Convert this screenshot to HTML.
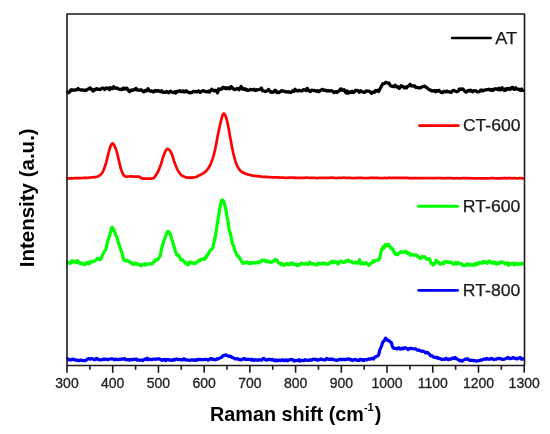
<!DOCTYPE html>
<html><head><meta charset="utf-8"><style>
html,body{margin:0;padding:0;background:#fff;width:550px;height:434px;overflow:hidden}
svg{display:block;filter:blur(0.35px)}
text{font-family:"Liberation Sans",Arial,sans-serif}
</style></head><body>
<svg width="550" height="434" viewBox="0 0 550 434">
<rect width="550" height="434" fill="#fff"/>
<g fill="none" stroke-linejoin="round" stroke-linecap="round">
<path d="M67.6 92.01L68.1 92.22L68.6 92.74L69.1 92.43L69.6 92.29L70.1 91.40L70.6 90.08L71.1 89.84L71.6 89.70L72.1 89.82L72.6 90.25L73.1 89.98L73.6 90.18L74.1 90.01L74.6 90.14L75.1 89.85L75.6 90.11L76.1 89.61L76.6 89.68L77.1 89.30L77.6 88.87L78.1 88.52L78.6 89.32L79.1 89.59L79.6 89.63L80.1 89.75L80.6 90.05L81.1 90.21L81.6 89.81L82.1 89.82L82.6 90.01L83.1 90.12L83.6 90.18L84.1 90.28L84.6 90.48L85.1 90.02L85.6 90.23L86.1 90.49L86.6 89.97L87.1 89.76L87.6 89.29L88.1 88.92L88.6 89.04L89.1 88.46L89.6 88.10L90.1 87.77L90.6 88.19L91.1 88.97L91.6 89.79L92.1 89.98L92.6 90.37L93.1 91.15L93.6 89.94L94.1 89.43L94.6 89.78L95.1 89.98L95.6 89.38L96.1 88.92L96.6 88.58L97.1 88.97L97.6 88.88L98.1 89.45L98.6 89.40L99.1 89.26L99.6 89.20L100.1 89.54L100.6 89.02L101.1 88.82L101.6 88.44L102.1 88.29L102.6 87.90L103.1 88.36L103.6 88.40L104.1 88.97L104.6 89.50L105.1 89.03L105.6 88.37L106.1 87.90L106.6 87.97L107.1 88.32L107.6 88.52L108.1 88.29L108.6 88.04L109.1 89.14L109.6 89.74L110.1 88.49L110.6 87.81L111.1 88.49L111.6 88.75L112.1 88.64L112.6 88.73L113.1 87.54L113.6 86.68L114.1 87.46L114.6 87.67L115.1 87.75L115.6 88.30L116.1 87.96L116.6 87.95L117.1 88.14L117.6 88.20L118.1 88.60L118.6 89.14L119.1 89.18L119.6 89.42L120.1 89.36L120.6 89.57L121.1 89.72L121.6 89.05L122.1 89.39L122.6 89.50L123.1 88.83L123.6 87.97L124.1 88.48L124.6 89.11L125.1 89.06L125.6 88.46L126.1 88.31L126.6 88.12L127.1 88.27L127.6 89.48L128.1 90.10L128.6 90.78L129.1 91.26L129.6 91.66L130.1 91.12L130.6 90.11L131.1 90.18L131.6 90.51L132.1 90.56L132.6 90.04L133.1 89.58L133.6 89.96L134.1 89.70L134.6 89.77L135.1 89.49L135.6 88.53L136.1 88.37L136.6 89.40L137.1 90.11L137.6 89.84L138.1 89.74L138.6 90.26L139.1 90.33L139.6 90.14L140.1 89.84L140.6 89.88L141.1 89.98L141.6 89.92L142.1 90.62L142.6 90.76L143.1 91.30L143.6 91.80L144.1 91.82L144.6 91.19L145.1 90.41L145.6 90.45L146.1 91.05L146.6 90.84L147.1 89.99L147.6 89.72L148.1 88.76L148.6 89.37L149.1 90.47L149.6 90.89L150.1 91.29L150.6 91.11L151.1 90.95L151.6 90.96L152.1 91.42L152.6 91.71L153.1 91.86L153.6 92.02L154.1 91.48L154.6 90.78L155.1 91.08L155.6 90.51L156.1 90.73L156.6 91.22L157.1 91.06L157.6 90.61L158.1 90.45L158.6 90.57L159.1 91.29L159.6 91.42L160.1 91.54L160.6 91.76L161.1 91.35L161.6 90.59L162.1 91.29L162.6 91.64L163.1 92.41L163.6 92.52L164.1 92.36L164.6 92.18L165.1 92.47L165.6 92.19L166.1 92.09L166.6 91.32L167.1 91.58L167.6 91.94L168.1 92.31L168.6 92.77L169.1 92.29L169.6 91.75L170.1 91.20L170.6 91.06L171.1 91.35L171.6 92.09L172.1 92.17L172.6 92.23L173.1 92.47L173.6 92.62L174.1 92.12L174.6 91.77L175.1 92.42L175.6 93.15L176.1 92.62L176.6 91.34L177.1 91.25L177.6 91.73L178.1 91.61L178.6 91.20L179.1 91.02L179.6 90.66L180.1 90.74L180.6 91.49L181.1 91.76L181.6 91.70L182.1 91.09L182.6 90.84L183.1 91.04L183.6 91.54L184.1 92.04L184.6 91.97L185.1 91.71L185.6 90.99L186.1 90.71L186.6 91.10L187.1 91.32L187.6 92.01L188.1 92.19L188.6 92.24L189.1 92.70L189.6 92.44L190.1 92.53L190.6 92.78L191.1 92.53L191.6 92.68L192.1 92.14L192.6 91.87L193.1 91.37L193.6 91.67L194.1 91.93L194.6 91.63L195.1 91.35L195.6 91.44L196.1 91.77L196.6 91.68L197.1 92.02L197.6 91.48L198.1 90.96L198.6 90.84L199.1 91.31L199.6 91.47L200.1 92.37L200.6 92.22L201.1 91.73L201.6 91.30L202.1 90.96L202.6 90.95L203.1 90.66L203.6 91.04L204.1 90.77L204.6 91.19L205.1 91.44L205.6 91.63L206.1 91.61L206.6 91.78L207.1 91.96L207.6 91.81L208.1 91.29L208.6 90.85L209.1 91.64L209.6 92.15L210.1 91.24L210.6 90.62L211.1 90.10L211.6 89.13L212.1 89.89L212.6 90.14L213.1 90.16L213.6 90.25L214.1 90.93L214.6 90.87L215.1 90.52L215.6 90.24L216.1 90.38L216.6 91.04L217.1 91.91L217.6 92.91L218.1 91.02L218.6 88.92L219.1 89.63L219.6 89.71L220.1 89.69L220.6 88.95L221.1 89.23L221.6 89.09L222.1 88.51L222.6 87.54L223.1 87.18L223.6 87.38L224.1 87.85L224.6 88.33L225.1 87.97L225.6 87.66L226.1 88.17L226.6 88.88L227.1 88.57L227.6 87.82L228.1 87.69L228.6 87.82L229.1 88.27L229.6 88.80L230.1 88.57L230.6 87.06L231.1 86.52L231.6 87.17L232.1 87.48L232.6 88.01L233.1 88.78L233.6 88.99L234.1 89.20L234.6 89.60L235.1 89.69L235.6 89.18L236.1 89.07L236.6 89.00L237.1 88.39L237.6 88.56L238.1 88.77L238.6 89.48L239.1 89.80L239.6 88.96L240.1 88.25L240.6 87.31L241.1 86.33L241.6 87.46L242.1 88.87L242.6 88.79L243.1 88.49L243.6 89.26L244.1 89.49L244.6 89.31L245.1 88.66L245.6 89.48L246.1 90.10L246.6 90.03L247.1 89.70L247.6 90.41L248.1 90.22L248.6 90.24L249.1 90.23L249.6 89.79L250.1 89.67L250.6 89.33L251.1 89.57L251.6 89.62L252.1 89.98L252.6 89.98L253.1 89.57L253.6 89.31L254.1 89.22L254.6 89.77L255.1 90.39L255.6 90.55L256.1 89.90L256.6 89.66L257.1 89.96L257.6 89.94L258.1 89.74L258.6 89.68L259.1 89.57L259.6 89.34L260.1 89.24L260.6 89.02L261.1 88.14L261.6 88.10L262.1 90.03L262.6 90.87L263.1 91.01L263.6 90.91L264.1 90.98L264.6 91.02L265.1 91.41L265.6 91.61L266.1 91.43L266.6 91.13L267.1 90.76L267.6 90.52L268.1 90.48L268.6 89.38L269.1 90.15L269.6 90.80L270.1 91.27L270.6 91.97L271.1 91.61L271.6 92.25L272.1 92.43L272.6 92.29L273.1 92.16L273.6 91.86L274.1 91.72L274.6 90.53L275.1 90.22L275.6 90.33L276.1 91.34L276.6 92.27L277.1 92.55L277.6 92.06L278.1 92.05L278.6 92.69L279.1 92.55L279.6 92.09L280.1 91.58L280.6 91.47L281.1 91.09L281.6 90.51L282.1 90.52L282.6 91.07L283.1 91.08L283.6 91.10L284.1 91.08L284.6 91.45L285.1 91.70L285.6 91.79L286.1 91.93L286.6 91.71L287.1 91.68L287.6 91.74L288.1 92.04L288.6 91.90L289.1 91.61L289.6 92.31L290.1 92.44L290.6 92.57L291.1 92.32L291.6 92.00L292.1 91.47L292.6 90.94L293.1 90.41L293.6 90.54L294.1 91.42L294.6 89.78L295.1 89.16L295.6 89.97L296.1 90.62L296.6 90.80L297.1 90.93L297.6 91.00L298.1 90.73L298.6 90.95L299.1 90.23L299.6 90.59L300.1 90.75L300.6 90.77L301.1 90.89L301.6 91.09L302.1 90.82L302.6 90.33L303.1 89.82L303.6 89.63L304.1 90.01L304.6 89.95L305.1 89.88L305.6 90.09L306.1 90.65L306.6 90.03L307.1 88.35L307.6 88.59L308.1 89.86L308.6 90.55L309.1 90.49L309.6 91.06L310.1 91.56L310.6 91.49L311.1 90.60L311.6 90.08L312.1 90.16L312.6 90.25L313.1 90.25L313.6 90.56L314.1 90.57L314.6 90.39L315.1 90.48L315.6 90.84L316.1 91.04L316.6 91.28L317.1 90.79L317.6 90.72L318.1 91.42L318.6 91.85L319.1 91.56L319.6 91.22L320.1 90.74L320.6 90.21L321.1 90.13L321.6 89.88L322.1 89.28L322.6 89.44L323.1 89.75L323.6 90.29L324.1 90.28L324.6 89.99L325.1 90.09L325.6 90.13L326.1 90.61L326.6 91.04L327.1 90.51L327.6 90.65L328.1 90.63L328.6 90.78L329.1 90.80L329.6 91.05L330.1 90.87L330.6 90.82L331.1 90.81L331.6 90.57L332.1 91.07L332.6 91.26L333.1 91.51L333.6 92.29L334.1 92.56L334.6 92.31L335.1 92.06L335.6 91.56L336.1 91.55L336.6 92.04L337.1 92.45L337.6 91.68L338.1 91.39L338.6 91.24L339.1 91.22L339.6 90.39L340.1 89.43L340.6 88.89L341.1 88.90L341.6 89.78L342.1 89.98L342.6 90.38L343.1 90.09L343.6 89.87L344.1 89.65L344.6 90.53L345.1 91.72L345.6 92.48L346.1 92.88L346.6 92.02L347.1 90.86L347.6 91.73L348.1 93.28L348.6 92.68L349.1 92.26L349.6 91.98L350.1 92.49L350.6 92.12L351.1 92.46L351.6 91.79L352.1 91.19L352.6 91.68L353.1 92.51L353.6 92.56L354.1 92.18L354.6 91.34L355.1 90.62L355.6 90.20L356.1 90.56L356.6 90.72L357.1 90.38L357.6 90.50L358.1 90.99L358.6 91.53L359.1 92.19L359.6 92.11L360.1 90.83L360.6 90.80L361.1 90.89L361.6 91.42L362.1 91.52L362.6 91.78L363.1 91.99L363.6 92.21L364.1 92.45L364.6 92.23L365.1 92.12L365.6 91.12L366.1 90.92L366.6 90.86L367.1 91.14L367.6 91.20L368.1 91.18L368.6 91.06L369.1 90.96L369.6 91.38L370.1 91.83L370.6 92.64L371.1 93.06L371.6 93.36L372.1 92.85L372.6 92.15L373.1 92.17L373.6 91.77L374.1 92.06L374.6 92.31L375.1 91.41L375.6 90.36L376.1 90.88L376.6 91.11L377.1 90.85L377.6 90.29L378.1 90.94L378.6 91.47L379.1 90.62L379.6 89.71L380.1 88.75L380.6 87.83L381.1 86.74L381.6 85.95L382.1 85.01L382.6 84.06L383.1 83.65L383.6 83.62L384.1 83.65L384.6 83.43L385.1 82.98L385.6 82.53L386.1 82.34L386.6 82.50L387.1 82.80L387.6 83.04L388.1 83.18L388.6 83.01L389.1 83.02L389.6 84.21L390.1 85.22L390.6 85.85L391.1 86.10L391.6 86.15L392.1 86.26L392.6 86.32L393.1 86.27L393.6 86.71L394.1 86.76L394.6 86.18L395.1 85.15L395.6 85.61L396.1 86.21L396.6 86.80L397.1 87.20L397.6 86.94L398.1 86.61L398.6 87.52L399.1 88.41L399.6 88.02L400.1 87.40L400.6 86.68L401.1 85.67L401.6 86.07L402.1 86.61L402.6 86.62L403.1 86.40L403.6 87.04L404.1 87.59L404.6 88.04L405.1 87.34L405.6 87.37L406.1 87.84L406.6 87.84L407.1 86.51L407.6 86.30L408.1 86.30L408.6 86.06L409.1 85.20L409.6 84.76L410.1 84.28L410.6 84.88L411.1 85.92L411.6 86.05L412.1 85.98L412.6 85.87L413.1 85.72L413.6 86.07L414.1 85.93L414.6 85.76L415.1 86.43L415.6 87.34L416.1 87.24L416.6 87.47L417.1 87.47L417.6 87.28L418.1 87.78L418.6 87.77L419.1 87.97L419.6 87.63L420.1 87.97L420.6 87.88L421.1 87.32L421.6 87.00L422.1 86.90L422.6 86.73L423.1 86.62L423.6 86.43L424.1 86.01L424.6 86.02L425.1 86.46L425.6 87.19L426.1 87.29L426.6 87.42L427.1 88.04L427.6 88.22L428.1 88.74L428.6 89.44L429.1 89.67L429.6 89.74L430.1 89.87L430.6 90.02L431.1 90.84L431.6 90.82L432.1 90.89L432.6 90.55L433.1 90.82L433.6 90.93L434.1 91.21L434.6 90.50L435.1 90.70L435.6 91.80L436.1 91.68L436.6 90.56L437.1 90.70L437.6 91.06L438.1 91.02L438.6 90.33L439.1 90.39L439.6 91.22L440.1 91.54L440.6 92.02L441.1 92.26L441.6 92.59L442.1 92.28L442.6 92.65L443.1 92.33L443.6 91.36L444.1 91.36L444.6 91.27L445.1 91.74L445.6 91.86L446.1 91.48L446.6 91.05L447.1 91.08L447.6 91.50L448.1 91.99L448.6 91.83L449.1 91.72L449.6 91.94L450.1 91.79L450.6 92.20L451.1 92.55L451.6 91.90L452.1 91.24L452.6 90.93L453.1 90.33L453.6 90.57L454.1 90.31L454.6 90.68L455.1 91.11L455.6 91.24L456.1 91.35L456.6 91.63L457.1 91.60L457.6 91.45L458.1 91.30L458.6 90.74L459.1 89.39L459.6 88.80L460.1 88.95L460.6 89.01L461.1 89.46L461.6 89.19L462.1 88.94L462.6 88.79L463.1 89.15L463.6 89.67L464.1 90.41L464.6 91.17L465.1 91.46L465.6 91.98L466.1 92.24L466.6 91.76L467.1 91.47L467.6 90.79L468.1 90.63L468.6 90.28L469.1 90.38L469.6 91.08L470.1 90.63L470.6 90.07L471.1 90.36L471.6 90.96L472.1 91.35L472.6 91.88L473.1 91.41L473.6 90.93L474.1 90.53L474.6 90.68L475.1 90.82L475.6 90.81L476.1 90.92L476.6 91.60L477.1 91.66L477.6 91.97L478.1 91.82L478.6 91.66L479.1 91.79L479.6 91.44L480.1 91.04L480.6 90.13L481.1 90.29L481.6 90.29L482.1 90.09L482.6 91.12L483.1 90.71L483.6 90.59L484.1 90.17L484.6 90.14L485.1 90.00L485.6 89.81L486.1 89.55L486.6 89.83L487.1 89.69L487.6 89.72L488.1 89.76L488.6 89.18L489.1 89.42L489.6 89.52L490.1 89.91L490.6 90.33L491.1 90.28L491.6 89.58L492.1 89.40L492.6 89.90L493.1 90.36L493.6 89.86L494.1 89.26L494.6 89.03L495.1 88.70L495.6 89.05L496.1 89.22L496.6 88.75L497.1 88.85L497.6 89.08L498.1 89.78L498.6 88.68L499.1 88.26L499.6 88.73L500.1 89.84L500.6 89.83L501.1 89.53L501.6 88.40L502.1 87.58L502.6 88.33L503.1 89.59L503.6 89.99L504.1 90.26L504.6 89.76L505.1 89.01L505.6 89.28L506.1 90.10L506.6 89.39L507.1 88.48L507.6 88.31L508.1 89.14L508.6 89.15L509.1 88.44L509.6 88.70L510.1 89.49L510.6 89.13L511.1 88.25L511.6 87.61L512.1 87.33L512.6 87.34L513.1 88.34L513.6 89.01L514.1 89.47L514.6 89.37L515.1 88.05L515.6 87.69L516.1 88.69L516.6 88.96L517.1 89.09L517.6 89.01L518.1 89.04L518.6 89.11L519.1 89.44L519.6 89.95L520.1 90.28L520.6 90.55L521.1 89.85L521.6 88.87L522.1 89.83L522.6 90.44L523.1 90.59" stroke="#000" stroke-width="3.2"/>
<path d="M67.6 178.23L68.1 178.27L68.6 178.35L69.1 178.42L69.6 178.38L70.1 178.38L70.6 178.38L71.1 178.20L71.6 178.22L72.1 178.31L72.6 178.36L73.1 178.23L73.6 178.23L74.1 178.13L74.6 178.17L75.1 178.09L75.6 178.15L76.1 178.14L76.6 178.14L77.1 178.20L77.6 178.21L78.1 178.15L78.6 178.21L79.1 178.02L79.6 178.08L80.1 178.13L80.6 178.02L81.1 178.02L81.6 178.01L82.1 178.05L82.6 177.99L83.1 178.02L83.6 177.90L84.1 177.83L84.6 177.82L85.1 177.79L85.6 177.68L86.1 177.87L86.6 177.81L87.1 177.76L87.6 177.90L88.1 177.80L88.6 177.75L89.1 177.72L89.6 177.59L90.1 177.43L90.6 177.52L91.1 177.49L91.6 177.48L92.1 177.33L92.6 177.27L93.1 177.23L93.6 177.17L94.1 177.22L94.6 177.29L95.1 177.17L95.6 177.13L96.1 176.82L96.6 176.73L97.1 176.63L97.6 176.49L98.1 176.35L98.6 176.09L99.1 175.79L99.6 175.41L100.1 175.03L100.6 174.70L101.1 174.10L101.6 173.63L102.1 173.00L102.6 172.24L103.1 171.22L103.6 170.05L104.1 168.92L104.6 167.40L105.1 165.84L105.6 164.27L106.1 162.68L106.6 160.91L107.1 158.83L107.6 156.80L108.1 154.67L108.6 152.68L109.1 150.89L109.6 149.09L110.1 147.48L110.6 146.04L111.1 144.98L111.6 144.18L112.1 143.50L112.6 143.42L113.1 143.74L113.6 144.40L114.1 145.09L114.6 146.05L115.1 147.13L115.6 148.43L116.1 149.91L116.6 151.17L117.1 153.03L117.6 154.99L118.1 157.30L118.6 159.48L119.1 161.57L119.6 163.76L120.1 165.90L120.6 168.02L121.1 169.56L121.6 170.87L122.1 172.10L122.6 173.34L123.1 174.27L123.6 175.06L124.1 175.64L124.6 176.06L125.1 176.32L125.6 176.58L126.1 176.49L126.6 176.48L127.1 176.56L127.6 176.55L128.1 176.54L128.6 176.50L129.1 176.50L129.6 176.44L130.1 176.35L130.6 176.43L131.1 176.33L131.6 176.38L132.1 176.45L132.6 176.46L133.1 176.66L133.6 176.54L134.1 176.60L134.6 176.60L135.1 176.62L135.6 176.53L136.1 176.50L136.6 176.66L137.1 176.57L137.6 176.59L138.1 176.61L138.6 176.53L139.1 176.67L139.6 176.95L140.1 177.21L140.6 177.56L141.1 177.82L141.6 178.16L142.1 178.36L142.6 178.51L143.1 178.73L143.6 178.67L144.1 178.71L144.6 178.62L145.1 178.66L145.6 178.64L146.1 178.58L146.6 178.68L147.1 178.62L147.6 178.65L148.1 178.59L148.6 178.72L149.1 178.70L149.6 178.67L150.1 178.59L150.6 178.59L151.1 178.63L151.6 178.50L152.1 178.50L152.6 178.50L153.1 178.37L153.6 178.23L154.1 177.59L154.6 177.10L155.1 176.40L155.6 175.59L156.1 174.91L156.6 174.10L157.1 173.25L157.6 172.36L158.1 171.48L158.6 170.47L159.1 169.29L159.6 168.10L160.1 166.69L160.6 165.27L161.1 163.82L161.6 162.07L162.1 160.33L162.6 158.65L163.1 157.04L163.6 155.66L164.1 154.33L164.6 153.02L165.1 151.88L165.6 150.87L166.1 150.11L166.6 149.45L167.1 149.05L167.6 148.86L168.1 149.07L168.6 149.48L169.1 149.90L169.6 150.39L170.1 150.88L170.6 151.76L171.1 152.61L171.6 153.63L172.1 154.83L172.6 156.16L173.1 157.98L173.6 159.55L174.1 161.19L174.6 162.53L175.1 163.92L175.6 165.19L176.1 166.43L176.6 167.71L177.1 168.90L177.6 169.85L178.1 170.71L178.6 171.65L179.1 172.37L179.6 173.07L180.1 173.87L180.6 174.37L181.1 174.89L181.6 175.36L182.1 175.70L182.6 175.99L183.1 176.18L183.6 176.35L184.1 176.60L184.6 176.84L185.1 177.03L185.6 177.21L186.1 177.37L186.6 177.47L187.1 177.60L187.6 177.64L188.1 177.70L188.6 177.78L189.1 177.65L189.6 177.74L190.1 177.80L190.6 177.47L191.1 177.60L191.6 177.45L192.1 177.58L192.6 177.62L193.1 177.56L193.6 177.37L194.1 177.32L194.6 177.29L195.1 177.32L195.6 177.13L196.1 176.94L196.6 176.70L197.1 176.46L197.6 176.23L198.1 175.95L198.6 175.61L199.1 175.53L199.6 175.09L200.1 175.04L200.6 174.67L201.1 174.41L201.6 174.14L202.1 173.93L202.6 173.71L203.1 173.41L203.6 173.01L204.1 172.72L204.6 172.26L205.1 171.98L205.6 171.48L206.1 170.97L206.6 170.48L207.1 169.90L207.6 169.16L208.1 168.49L208.6 167.82L209.1 166.90L209.6 166.06L210.1 165.16L210.6 164.03L211.1 162.79L211.6 161.55L212.1 160.27L212.6 158.83L213.1 157.27L213.6 155.55L214.1 153.60L214.6 151.72L215.1 149.52L215.6 147.03L216.1 144.54L216.6 141.80L217.1 139.12L217.6 136.51L218.1 133.95L218.6 131.67L219.1 129.13L219.6 126.80L220.1 124.54L220.6 122.47L221.1 120.44L221.6 118.33L222.1 116.55L222.6 115.19L223.1 114.26L223.6 113.49L224.1 113.57L224.6 114.17L225.1 115.06L225.6 116.09L226.1 117.53L226.6 119.22L227.1 121.15L227.6 123.27L228.1 125.69L228.6 128.47L229.1 131.22L229.6 134.14L230.1 136.79L230.6 139.41L231.1 142.17L231.6 144.90L232.1 147.55L232.6 150.11L233.1 152.41L233.6 154.42L234.1 156.48L234.6 158.38L235.1 160.15L235.6 161.89L236.1 163.19L236.6 164.45L237.1 165.55L237.6 166.60L238.1 167.46L238.6 168.31L239.1 169.01L239.6 169.83L240.1 170.57L240.6 170.98L241.1 171.37L241.6 171.80L242.1 172.05L242.6 172.36L243.1 172.44L243.6 172.82L244.1 173.00L244.6 173.24L245.1 173.54L245.6 173.76L246.1 173.80L246.6 174.00L247.1 174.21L247.6 174.41L248.1 174.48L248.6 174.74L249.1 174.73L249.6 174.78L250.1 174.93L250.6 175.22L251.1 175.33L251.6 175.29L252.1 175.42L252.6 175.58L253.1 175.59L253.6 175.76L254.1 175.93L254.6 175.82L255.1 175.83L255.6 175.82L256.1 175.97L256.6 176.15L257.1 176.13L257.6 176.08L258.1 176.10L258.6 176.25L259.1 176.29L259.6 176.37L260.1 176.50L260.6 176.57L261.1 176.61L261.6 176.58L262.1 176.76L262.6 176.81L263.1 176.92L263.6 176.83L264.1 176.95L264.6 176.86L265.1 176.79L265.6 176.92L266.1 176.83L266.6 176.90L267.1 176.90L267.6 177.01L268.1 177.10L268.6 177.21L269.1 177.26L269.6 177.15L270.1 177.15L270.6 177.25L271.1 177.20L271.6 177.28L272.1 177.30L272.6 177.29L273.1 177.35L273.6 177.35L274.1 177.32L274.6 177.31L275.1 177.33L275.6 177.36L276.1 177.24L276.6 177.25L277.1 177.35L277.6 177.33L278.1 177.34L278.6 177.30L279.1 177.45L279.6 177.57L280.1 177.58L280.6 177.75L281.1 177.65L281.6 177.61L282.1 177.48L282.6 177.48L283.1 177.55L283.6 177.60L284.1 177.67L284.6 177.73L285.1 177.76L285.6 177.84L286.1 177.77L286.6 177.87L287.1 177.84L287.6 177.79L288.1 177.57L288.6 177.56L289.1 177.57L289.6 177.69L290.1 177.73L290.6 177.69L291.1 177.72L291.6 177.72L292.1 177.70L292.6 177.56L293.1 177.66L293.6 177.65L294.1 177.81L294.6 177.82L295.1 177.72L295.6 177.72L296.1 177.89L296.6 177.83L297.1 177.85L297.6 177.81L298.1 177.80L298.6 177.82L299.1 177.82L299.6 177.78L300.1 177.91L300.6 177.86L301.1 177.76L301.6 177.83L302.1 177.76L302.6 177.83L303.1 177.79L303.6 177.84L304.1 177.73L304.6 177.82L305.1 177.71L305.6 177.78L306.1 177.63L306.6 177.74L307.1 177.75L307.6 177.71L308.1 177.77L308.6 177.73L309.1 177.95L309.6 177.99L310.1 177.84L310.6 177.85L311.1 177.85L311.6 177.87L312.1 177.88L312.6 177.72L313.1 177.85L313.6 177.78L314.1 177.75L314.6 177.87L315.1 177.84L315.6 177.96L316.1 178.00L316.6 178.03L317.1 178.15L317.6 178.12L318.1 178.02L318.6 177.93L319.1 177.93L319.6 177.94L320.1 177.88L320.6 178.00L321.1 177.94L321.6 177.94L322.1 177.95L322.6 177.88L323.1 177.92L323.6 177.88L324.1 177.79L324.6 177.80L325.1 177.91L325.6 177.83L326.1 177.86L326.6 177.84L327.1 177.93L327.6 178.01L328.1 177.94L328.6 177.88L329.1 177.95L329.6 177.83L330.1 177.78L330.6 177.81L331.1 177.62L331.6 177.72L332.1 177.65L332.6 177.71L333.1 177.76L333.6 177.84L334.1 177.87L334.6 177.92L335.1 177.95L335.6 178.04L336.1 178.06L336.6 177.99L337.1 177.94L337.6 177.84L338.1 177.78L338.6 177.89L339.1 177.88L339.6 177.91L340.1 177.74L340.6 177.96L341.1 177.76L341.6 177.82L342.1 177.86L342.6 177.73L343.1 177.73L343.6 177.63L344.1 177.66L344.6 177.69L345.1 177.82L345.6 177.83L346.1 177.78L346.6 177.84L347.1 177.84L347.6 177.79L348.1 177.80L348.6 177.80L349.1 177.80L349.6 177.94L350.1 177.93L350.6 177.96L351.1 178.03L351.6 178.10L352.1 178.04L352.6 178.07L353.1 178.05L353.6 178.11L354.1 178.03L354.6 177.89L355.1 178.01L355.6 178.11L356.1 178.04L356.6 178.02L357.1 177.91L357.6 177.85L358.1 177.78L358.6 177.81L359.1 177.85L359.6 177.78L360.1 177.83L360.6 177.84L361.1 177.98L361.6 177.91L362.1 177.96L362.6 178.02L363.1 178.03L363.6 178.04L364.1 178.11L364.6 178.04L365.1 178.14L365.6 178.10L366.1 178.13L366.6 178.12L367.1 178.10L367.6 178.07L368.1 178.11L368.6 178.12L369.1 177.91L369.6 177.96L370.1 177.97L370.6 177.87L371.1 177.85L371.6 177.80L372.1 177.68L372.6 177.83L373.1 177.80L373.6 177.81L374.1 177.84L374.6 177.88L375.1 178.01L375.6 177.91L376.1 177.92L376.6 177.84L377.1 177.90L377.6 177.91L378.1 177.97L378.6 177.96L379.1 177.98L379.6 178.05L380.1 178.10L380.6 178.12L381.1 178.09L381.6 178.14L382.1 177.98L382.6 178.13L383.1 178.05L383.6 178.01L384.1 178.01L384.6 177.92L385.1 178.03L385.6 177.98L386.1 178.05L386.6 178.01L387.1 178.06L387.6 178.07L388.1 177.85L388.6 177.74L389.1 177.69L389.6 177.74L390.1 177.90L390.6 177.77L391.1 177.73L391.6 177.83L392.1 177.79L392.6 177.82L393.1 177.83L393.6 177.78L394.1 177.82L394.6 177.78L395.1 177.89L395.6 177.86L396.1 177.96L396.6 177.94L397.1 177.81L397.6 177.79L398.1 177.81L398.6 177.88L399.1 177.80L399.6 177.91L400.1 178.01L400.6 177.92L401.1 177.92L401.6 177.87L402.1 177.77L402.6 177.87L403.1 177.87L403.6 177.90L404.1 177.97L404.6 178.00L405.1 177.90L405.6 178.03L406.1 177.95L406.6 177.96L407.1 177.91L407.6 177.92L408.1 178.06L408.6 178.05L409.1 178.06L409.6 178.10L410.1 178.13L410.6 178.13L411.1 178.02L411.6 178.12L412.1 178.20L412.6 178.26L413.1 178.29L413.6 178.14L414.1 178.25L414.6 178.12L415.1 178.09L415.6 177.99L416.1 177.96L416.6 178.09L417.1 178.05L417.6 178.08L418.1 178.15L418.6 178.18L419.1 178.02L419.6 178.08L420.1 178.09L420.6 178.16L421.1 178.15L421.6 177.99L422.1 178.00L422.6 178.06L423.1 178.10L423.6 178.05L424.1 178.14L424.6 178.08L425.1 177.98L425.6 178.02L426.1 178.08L426.6 178.12L427.1 178.00L427.6 178.06L428.1 178.17L428.6 178.02L429.1 178.23L429.6 178.25L430.1 178.03L430.6 178.18L431.1 178.12L431.6 178.22L432.1 178.19L432.6 178.16L433.1 178.16L433.6 178.17L434.1 178.14L434.6 178.16L435.1 178.11L435.6 178.20L436.1 178.13L436.6 178.18L437.1 178.05L437.6 178.02L438.1 177.96L438.6 178.01L439.1 177.98L439.6 177.99L440.1 178.14L440.6 178.17L441.1 178.08L441.6 178.08L442.1 178.23L442.6 178.17L443.1 178.38L443.6 178.25L444.1 178.28L444.6 178.13L445.1 178.12L445.6 178.11L446.1 178.04L446.6 177.98L447.1 178.12L447.6 178.03L448.1 177.99L448.6 178.01L449.1 178.05L449.6 178.14L450.1 178.05L450.6 178.09L451.1 178.05L451.6 178.15L452.1 178.12L452.6 178.24L453.1 178.30L453.6 178.27L454.1 178.31L454.6 178.29L455.1 178.16L455.6 178.23L456.1 178.35L456.6 178.15L457.1 178.23L457.6 178.17L458.1 178.29L458.6 178.27L459.1 178.36L459.6 178.33L460.1 178.27L460.6 178.37L461.1 178.28L461.6 178.19L462.1 178.17L462.6 178.09L463.1 178.19L463.6 178.19L464.1 178.18L464.6 178.21L465.1 178.10L465.6 178.21L466.1 178.11L466.6 178.35L467.1 178.27L467.6 178.15L468.1 178.03L468.6 178.09L469.1 178.15L469.6 178.24L470.1 178.34L470.6 178.23L471.1 178.21L471.6 178.24L472.1 178.31L472.6 178.29L473.1 178.32L473.6 178.29L474.1 178.31L474.6 178.34L475.1 178.24L475.6 178.29L476.1 178.30L476.6 178.35L477.1 178.42L477.6 178.34L478.1 178.32L478.6 178.33L479.1 178.20L479.6 178.25L480.1 178.30L480.6 178.33L481.1 178.32L481.6 178.25L482.1 178.36L482.6 178.23L483.1 178.25L483.6 178.32L484.1 178.31L484.6 178.28L485.1 178.30L485.6 178.32L486.1 178.27L486.6 178.30L487.1 178.23L487.6 178.29L488.1 178.23L488.6 178.30L489.1 178.32L489.6 178.43L490.1 178.27L490.6 178.24L491.1 178.12L491.6 178.14L492.1 178.12L492.6 178.10L493.1 178.22L493.6 178.14L494.1 178.31L494.6 178.46L495.1 178.33L495.6 178.40L496.1 178.30L496.6 178.37L497.1 178.28L497.6 178.41L498.1 178.37L498.6 178.31L499.1 178.34L499.6 178.32L500.1 178.37L500.6 178.38L501.1 178.27L501.6 178.21L502.1 178.25L502.6 178.32L503.1 178.16L503.6 178.23L504.1 178.14L504.6 177.97L505.1 178.20L505.6 178.10L506.1 178.21L506.6 178.31L507.1 178.22L507.6 178.22L508.1 178.22L508.6 178.18L509.1 178.21L509.6 178.19L510.1 178.20L510.6 178.22L511.1 178.26L511.6 178.21L512.1 178.26L512.6 178.25L513.1 178.20L513.6 178.35L514.1 178.18L514.6 178.27L515.1 178.19L515.6 178.26L516.1 178.32L516.6 178.36L517.1 178.37L517.6 178.23L518.1 178.38L518.6 178.19L519.1 178.07L519.6 178.00L520.1 178.18L520.6 178.15L521.1 178.11L521.6 178.24L522.1 178.36L522.6 178.36L523.1 178.39" stroke="#ff0000" stroke-width="2.7"/>
<path d="M67.6 263.07L68.1 262.67L68.6 262.62L69.1 262.90L69.6 262.68L70.1 263.38L70.6 262.65L71.1 262.50L71.6 260.96L72.1 260.91L72.6 260.91L73.1 261.95L73.6 261.83L74.1 261.37L74.6 261.48L75.1 262.09L75.6 262.26L76.1 262.85L76.6 262.00L77.1 260.57L77.6 261.49L78.1 261.30L78.6 262.23L79.1 263.18L79.6 263.04L80.1 262.84L80.6 263.64L81.1 263.56L81.6 263.15L82.1 263.06L82.6 263.49L83.1 263.36L83.6 264.14L84.1 264.77L84.6 264.71L85.1 263.75L85.6 263.16L86.1 263.83L86.6 263.10L87.1 262.61L87.6 262.26L88.1 262.73L88.6 263.45L89.1 263.59L89.6 263.43L90.1 261.73L90.6 261.58L91.1 261.52L91.6 261.91L92.1 261.57L92.6 261.34L93.1 261.57L93.6 261.31L94.1 261.44L94.6 260.85L95.1 260.57L95.6 260.18L96.1 260.18L96.6 259.36L97.1 258.64L97.6 258.10L98.1 258.97L98.6 258.98L99.1 259.39L99.6 259.43L100.1 259.81L100.6 258.54L101.1 258.56L101.6 257.08L102.1 256.11L102.6 254.84L103.1 254.07L103.6 252.70L104.1 252.35L104.6 251.39L105.1 250.38L105.6 250.10L106.1 248.37L106.6 246.23L107.1 243.84L107.6 241.79L108.1 239.53L108.6 238.39L109.1 237.55L109.6 235.79L110.1 233.52L110.6 232.16L111.1 229.69L111.6 228.09L112.1 227.08L112.6 228.07L113.1 228.97L113.6 229.44L114.1 230.51L114.6 231.70L115.1 232.83L115.6 234.43L116.1 235.90L116.6 236.34L117.1 238.12L117.6 239.77L118.1 241.44L118.6 243.36L119.1 244.38L119.6 246.71L120.1 247.61L120.6 249.05L121.1 250.54L121.6 252.23L122.1 253.69L122.6 255.69L123.1 257.77L123.6 259.54L124.1 260.03L124.6 260.49L125.1 260.99L125.6 260.77L126.1 260.44L126.6 261.09L127.1 260.40L127.6 260.34L128.1 260.91L128.6 261.43L129.1 261.73L129.6 261.62L130.1 262.17L130.6 262.55L131.1 262.55L131.6 263.03L132.1 264.14L132.6 263.21L133.1 263.90L133.6 263.85L134.1 264.31L134.6 263.79L135.1 263.00L135.6 263.63L136.1 263.22L136.6 264.02L137.1 263.90L137.6 263.77L138.1 264.65L138.6 264.82L139.1 264.67L139.6 265.19L140.1 264.73L140.6 265.00L141.1 265.58L141.6 265.70L142.1 265.06L142.6 264.42L143.1 264.49L143.6 264.47L144.1 263.99L144.6 263.92L145.1 265.05L145.6 264.84L146.1 264.91L146.6 263.86L147.1 264.12L147.6 264.02L148.1 264.01L148.6 264.02L149.1 263.89L149.6 263.61L150.1 264.03L150.6 263.53L151.1 263.51L151.6 263.83L152.1 263.84L152.6 263.33L153.1 262.50L153.6 262.42L154.1 261.31L154.6 261.21L155.1 261.27L155.6 259.35L156.1 259.70L156.6 259.72L157.1 259.69L157.6 259.93L158.1 259.39L158.6 258.34L159.1 257.64L159.6 256.98L160.1 255.62L160.6 253.65L161.1 250.88L161.6 248.71L162.1 246.29L162.6 244.96L163.1 243.22L163.6 241.54L164.1 240.24L164.6 239.01L165.1 238.23L165.6 236.15L166.1 235.17L166.6 233.97L167.1 233.09L167.6 231.75L168.1 231.33L168.6 231.96L169.1 231.85L169.6 232.82L170.1 233.66L170.6 234.52L171.1 236.64L171.6 238.63L172.1 240.27L172.6 241.57L173.1 243.31L173.6 245.00L174.1 246.84L174.6 248.38L175.1 250.21L175.6 251.76L176.1 252.72L176.6 254.62L177.1 255.17L177.6 255.44L178.1 255.07L178.6 255.27L179.1 256.11L179.6 257.28L180.1 258.63L180.6 259.26L181.1 259.90L181.6 260.12L182.1 259.33L182.6 260.38L183.1 260.87L183.6 261.09L184.1 261.71L184.6 261.70L185.1 262.70L185.6 263.02L186.1 263.76L186.6 264.16L187.1 262.98L187.6 263.58L188.1 264.84L188.6 264.55L189.1 263.44L189.6 262.25L190.1 261.97L190.6 262.55L191.1 262.97L191.6 262.69L192.1 262.89L192.6 262.85L193.1 263.23L193.6 262.86L194.1 263.68L194.6 263.21L195.1 263.54L195.6 263.31L196.1 262.88L196.6 262.90L197.1 262.18L197.6 261.61L198.1 260.73L198.6 260.85L199.1 261.14L199.6 260.92L200.1 259.86L200.6 259.47L201.1 259.91L201.6 259.43L202.1 259.24L202.6 258.93L203.1 258.98L203.6 258.44L204.1 259.50L204.6 259.39L205.1 258.59L205.6 257.55L206.1 256.46L206.6 257.04L207.1 255.82L207.6 255.07L208.1 254.01L208.6 253.26L209.1 252.18L209.6 251.54L210.1 250.63L210.6 249.91L211.1 249.31L211.6 249.59L212.1 248.91L212.6 247.99L213.1 246.26L213.6 243.73L214.1 241.59L214.6 240.03L215.1 237.70L215.6 234.93L216.1 231.83L216.6 228.53L217.1 224.95L217.6 222.15L218.1 218.99L218.6 215.43L219.1 212.90L219.6 209.81L220.1 206.63L220.6 204.61L221.1 202.51L221.6 200.55L222.1 199.87L222.6 200.51L223.1 200.38L223.6 201.11L224.1 202.63L224.6 204.41L225.1 206.34L225.6 208.40L226.1 210.88L226.6 213.97L227.1 216.86L227.6 219.16L228.1 221.63L228.6 226.02L229.1 229.41L229.6 231.77L230.1 232.48L230.6 234.48L231.1 236.99L231.6 239.61L232.1 242.19L232.6 243.92L233.1 245.43L233.6 246.31L234.1 247.28L234.6 249.66L235.1 250.90L235.6 252.05L236.1 253.23L236.6 254.51L237.1 255.54L237.6 256.01L238.1 255.76L238.6 256.21L239.1 257.19L239.6 257.96L240.1 259.02L240.6 260.19L241.1 260.37L241.6 261.96L242.1 261.96L242.6 262.00L243.1 263.43L243.6 263.32L244.1 262.96L244.6 262.54L245.1 262.69L245.6 262.82L246.1 262.07L246.6 262.25L247.1 262.11L247.6 262.14L248.1 263.06L248.6 263.42L249.1 262.80L249.6 262.66L250.1 263.34L250.6 263.75L251.1 263.04L251.6 262.49L252.1 263.04L252.6 262.73L253.1 262.78L253.6 262.77L254.1 262.86L254.6 262.77L255.1 262.85L255.6 262.65L256.1 262.76L256.6 262.93L257.1 262.16L257.6 262.20L258.1 262.39L258.6 262.87L259.1 262.14L259.6 261.86L260.1 261.98L260.6 261.77L261.1 261.33L261.6 260.23L262.1 260.48L262.6 260.04L263.1 260.17L263.6 260.55L264.1 260.44L264.6 260.12L265.1 260.54L265.6 261.49L266.1 261.06L266.6 260.81L267.1 261.20L267.6 261.81L268.1 261.55L268.6 261.16L269.1 261.56L269.6 261.82L270.1 261.70L270.6 262.45L271.1 262.13L271.6 262.21L272.1 261.73L272.6 261.69L273.1 261.88L273.6 260.74L274.1 260.67L274.6 260.27L275.1 259.35L275.6 260.04L276.1 260.09L276.6 260.28L277.1 260.11L277.6 261.07L278.1 262.64L278.6 262.72L279.1 262.75L279.6 263.15L280.1 263.55L280.6 264.18L281.1 264.66L281.6 263.49L282.1 263.87L282.6 263.99L283.1 264.58L283.6 265.17L284.1 264.98L284.6 265.24L285.1 264.20L285.6 264.15L286.1 263.75L286.6 264.07L287.1 263.62L287.6 264.02L288.1 264.94L288.6 264.42L289.1 264.43L289.6 263.85L290.1 263.25L290.6 263.31L291.1 264.07L291.6 263.98L292.1 263.58L292.6 262.84L293.1 263.67L293.6 264.46L294.1 264.42L294.6 264.80L295.1 264.47L295.6 264.39L296.1 264.43L296.6 264.54L297.1 265.63L297.6 265.80L298.1 264.60L298.6 264.92L299.1 264.55L299.6 264.56L300.1 264.87L300.6 264.07L301.1 263.33L301.6 263.11L302.1 263.45L302.6 263.72L303.1 263.88L303.6 264.10L304.1 263.85L304.6 264.08L305.1 263.63L305.6 263.18L306.1 263.82L306.6 264.14L307.1 264.45L307.6 263.91L308.1 263.70L308.6 264.28L309.1 263.00L309.6 262.41L310.1 262.10L310.6 263.31L311.1 263.52L311.6 263.73L312.1 263.96L312.6 263.92L313.1 263.64L313.6 263.87L314.1 264.23L314.6 264.52L315.1 264.24L315.6 264.76L316.1 264.62L316.6 264.71L317.1 265.05L317.6 263.87L318.1 263.12L318.6 263.11L319.1 263.67L319.6 263.86L320.1 263.83L320.6 263.95L321.1 263.71L321.6 263.31L322.1 263.11L322.6 263.74L323.1 263.35L323.6 262.98L324.1 263.83L324.6 263.91L325.1 263.86L325.6 263.66L326.1 263.81L326.6 263.66L327.1 264.30L327.6 264.12L328.1 263.75L328.6 263.87L329.1 263.37L329.6 263.28L330.1 262.43L330.6 262.95L331.1 262.80L331.6 261.75L332.1 261.20L332.6 262.21L333.1 262.91L333.6 262.65L334.1 261.39L334.6 262.01L335.1 262.21L335.6 261.62L336.1 261.88L336.6 261.85L337.1 263.42L337.6 263.65L338.1 264.05L338.6 262.87L339.1 262.44L339.6 262.04L340.1 261.80L340.6 261.39L341.1 260.97L341.6 261.40L342.1 262.19L342.6 262.27L343.1 262.39L343.6 262.42L344.1 262.23L344.6 261.61L345.1 262.07L345.6 261.19L346.1 261.48L346.6 260.57L347.1 260.57L347.6 260.02L348.1 260.08L348.6 260.41L349.1 261.44L349.6 261.20L350.1 261.78L350.6 261.74L351.1 261.54L351.6 261.55L352.1 262.40L352.6 262.47L353.1 262.85L353.6 262.95L354.1 262.68L354.6 262.91L355.1 261.99L355.6 262.08L356.1 262.31L356.6 262.98L357.1 263.15L357.6 263.10L358.1 262.00L358.6 261.37L359.1 261.33L359.6 259.73L360.1 262.41L360.6 263.98L361.1 263.28L361.6 263.72L362.1 263.34L362.6 263.24L363.1 262.80L363.6 263.91L364.1 263.94L364.6 263.62L365.1 263.33L365.6 263.05L366.1 262.41L366.6 263.41L367.1 263.66L367.6 264.32L368.1 264.71L368.6 265.38L369.1 265.19L369.6 264.89L370.1 263.58L370.6 263.93L371.1 263.15L371.6 262.94L372.1 262.43L372.6 262.06L373.1 260.81L373.6 261.98L374.1 261.77L374.6 260.79L375.1 260.29L375.6 260.55L376.1 260.41L376.6 260.46L377.1 260.19L377.6 260.18L378.1 260.41L378.6 259.35L379.1 259.35L379.6 258.44L380.1 256.40L380.6 253.80L381.1 251.36L381.6 249.42L382.1 249.65L382.6 248.48L383.1 246.98L383.6 247.35L384.1 248.10L384.6 246.47L385.1 244.78L385.6 244.61L386.1 245.10L386.6 245.87L387.1 245.56L387.6 244.46L388.1 244.48L388.6 244.43L389.1 244.90L389.6 245.83L390.1 246.88L390.6 247.98L391.1 247.40L391.6 248.03L392.1 249.37L392.6 249.99L393.1 249.47L393.6 251.37L394.1 252.69L394.6 252.81L395.1 254.04L395.6 253.33L396.1 254.28L396.6 254.02L397.1 254.18L397.6 254.78L398.1 253.81L398.6 253.11L399.1 253.08L399.6 252.77L400.1 252.31L400.6 251.79L401.1 252.32L401.6 252.13L402.1 251.88L402.6 251.73L403.1 252.04L403.6 251.84L404.1 252.13L404.6 251.83L405.1 252.11L405.6 251.16L406.1 251.54L406.6 251.97L407.1 252.98L407.6 253.61L408.1 252.86L408.6 252.89L409.1 253.00L409.6 253.88L410.1 255.11L410.6 254.55L411.1 255.05L411.6 254.80L412.1 254.19L412.6 254.34L413.1 255.15L413.6 254.93L414.1 255.20L414.6 255.29L415.1 254.92L415.6 255.11L416.1 254.92L416.6 255.05L417.1 255.52L417.6 256.24L418.1 256.89L418.6 256.89L419.1 257.89L419.6 258.08L420.1 258.10L420.6 258.38L421.1 257.35L421.6 256.97L422.1 257.06L422.6 256.47L423.1 256.85L423.6 257.16L424.1 257.04L424.6 256.67L425.1 257.01L425.6 258.04L426.1 258.87L426.6 258.59L427.1 258.75L427.6 259.17L428.1 258.85L428.6 258.66L429.1 258.64L429.6 258.98L430.1 260.06L430.6 262.12L431.1 263.21L431.6 263.24L432.1 263.46L432.6 264.07L433.1 265.09L433.6 263.57L434.1 263.30L434.6 263.75L435.1 263.03L435.6 261.98L436.1 260.30L436.6 261.20L437.1 261.39L437.6 261.72L438.1 261.78L438.6 262.67L439.1 263.34L439.6 263.94L440.1 263.93L440.6 264.20L441.1 263.53L441.6 263.71L442.1 262.81L442.6 263.01L443.1 262.57L443.6 262.25L444.1 263.42L444.6 262.19L445.1 261.74L445.6 261.46L446.1 261.77L446.6 261.92L447.1 261.72L447.6 261.91L448.1 262.79L448.6 262.09L449.1 262.44L449.6 261.84L450.1 262.32L450.6 262.55L451.1 262.20L451.6 262.23L452.1 263.02L452.6 263.59L453.1 263.87L453.6 264.15L454.1 263.97L454.6 263.90L455.1 263.27L455.6 262.46L456.1 263.43L456.6 264.13L457.1 262.95L457.6 263.28L458.1 263.01L458.6 262.65L459.1 263.54L459.6 263.41L460.1 263.70L460.6 263.39L461.1 263.65L461.6 263.65L462.1 264.37L462.6 265.50L463.1 265.52L463.6 265.31L464.1 265.39L464.6 265.23L465.1 265.83L465.6 265.38L466.1 265.17L466.6 264.33L467.1 263.93L467.6 263.75L468.1 264.48L468.6 264.17L469.1 264.62L469.6 265.30L470.1 264.64L470.6 264.36L471.1 264.91L471.6 265.03L472.1 265.00L472.6 265.17L473.1 264.69L473.6 264.65L474.1 264.39L474.6 265.22L475.1 265.17L475.6 263.49L476.1 263.23L476.6 263.76L477.1 264.29L477.6 264.46L478.1 263.87L478.6 262.91L479.1 262.33L479.6 262.51L480.1 263.01L480.6 262.81L481.1 262.84L481.6 262.95L482.1 263.29L482.6 261.68L483.1 261.48L483.6 261.57L484.1 262.48L484.6 261.87L485.1 262.38L485.6 262.36L486.1 261.92L486.6 262.80L487.1 263.40L487.6 263.16L488.1 262.28L488.6 261.53L489.1 260.90L489.6 261.39L490.1 261.72L490.6 261.77L491.1 261.78L491.6 263.00L492.1 263.15L492.6 263.04L493.1 262.75L493.6 262.08L494.1 262.11L494.6 262.04L495.1 263.66L495.6 263.39L496.1 263.22L496.6 263.42L497.1 263.97L497.6 263.45L498.1 262.64L498.6 263.36L499.1 263.24L499.6 263.47L500.1 262.84L500.6 262.06L501.1 261.83L501.6 261.75L502.1 261.95L502.6 262.65L503.1 262.40L503.6 262.50L504.1 263.17L504.6 263.13L505.1 263.90L505.6 263.97L506.1 263.42L506.6 263.37L507.1 263.43L507.6 262.57L508.1 264.32L508.6 265.29L509.1 264.70L509.6 263.74L510.1 263.45L510.6 263.71L511.1 264.16L511.6 263.61L512.1 263.46L512.6 263.36L513.1 263.17L513.6 264.25L514.1 264.76L514.6 264.23L515.1 264.05L515.6 263.11L516.1 263.85L516.6 264.49L517.1 264.51L517.6 263.74L518.1 264.08L518.6 264.11L519.1 263.75L519.6 264.08L520.1 263.41L520.6 263.71L521.1 264.32L521.6 263.70L522.1 263.28L522.6 263.98L523.1 263.71" stroke="#00ff00" stroke-width="3.2"/>
<path d="M67.6 358.59L68.1 359.43L68.6 359.80L69.1 359.70L69.6 359.65L70.1 359.86L70.6 359.55L71.1 359.79L71.6 359.95L72.1 359.69L72.6 359.05L73.1 359.23L73.6 359.32L74.1 359.53L74.6 359.93L75.1 360.17L75.6 360.23L76.1 360.08L76.6 359.77L77.1 360.11L77.6 360.42L78.1 360.48L78.6 360.42L79.1 360.68L79.6 360.47L80.1 360.45L80.6 359.98L81.1 360.12L81.6 360.22L82.1 360.39L82.6 360.41L83.1 360.57L83.6 360.63L84.1 360.56L84.6 360.61L85.1 360.64L85.6 360.52L86.1 360.14L86.6 359.87L87.1 359.30L87.6 359.07L88.1 358.62L88.6 358.59L89.1 358.59L89.6 358.98L90.1 359.22L90.6 358.81L91.1 358.74L91.6 358.69L92.1 358.69L92.6 358.90L93.1 359.15L93.6 359.41L94.1 359.66L94.6 359.71L95.1 359.68L95.6 359.03L96.1 358.32L96.6 358.43L97.1 358.78L97.6 359.17L98.1 359.49L98.6 359.68L99.1 359.44L99.6 359.66L100.1 359.85L100.6 359.98L101.1 359.81L101.6 359.86L102.1 359.58L102.6 359.33L103.1 359.26L103.6 359.17L104.1 359.64L104.6 359.29L105.1 359.19L105.6 359.07L106.1 359.05L106.6 359.17L107.1 359.70L107.6 359.76L108.1 359.74L108.6 359.64L109.1 359.19L109.6 358.99L110.1 358.98L110.6 358.97L111.1 358.76L111.6 358.79L112.1 358.94L112.6 358.82L113.1 358.94L113.6 359.39L114.1 359.47L114.6 359.80L115.1 359.51L115.6 359.17L116.1 359.48L116.6 359.53L117.1 359.45L117.6 359.54L118.1 359.58L118.6 359.60L119.1 359.47L119.6 359.20L120.1 359.48L120.6 359.41L121.1 359.18L121.6 359.14L122.1 358.80L122.6 359.00L123.1 359.18L123.6 359.00L124.1 358.96L124.6 358.54L125.1 359.04L125.6 359.68L126.1 359.78L126.6 359.86L127.1 359.71L127.6 359.67L128.1 359.65L128.6 359.64L129.1 359.64L129.6 360.19L130.1 359.63L130.6 359.57L131.1 359.35L131.6 359.64L132.1 359.90L132.6 359.50L133.1 359.40L133.6 359.43L134.1 359.26L134.6 359.35L135.1 359.31L135.6 359.02L136.1 358.97L136.6 359.59L137.1 360.09L137.6 360.00L138.1 359.77L138.6 359.88L139.1 360.18L139.6 360.42L140.1 360.22L140.6 360.13L141.1 360.05L141.6 360.09L142.1 359.83L142.6 360.29L143.1 360.60L143.6 359.96L144.1 359.82L144.6 359.17L145.1 358.93L145.6 359.15L146.1 359.56L146.6 358.75L147.1 358.16L147.6 358.93L148.1 359.66L148.6 359.75L149.1 359.28L149.6 359.20L150.1 359.44L150.6 359.45L151.1 359.50L151.6 359.61L152.1 359.62L152.6 359.34L153.1 359.18L153.6 358.98L154.1 359.06L154.6 359.10L155.1 359.35L155.6 359.26L156.1 359.11L156.6 358.92L157.1 359.18L157.6 358.94L158.1 358.80L158.6 358.76L159.1 358.92L159.6 358.94L160.1 359.23L160.6 359.70L161.1 360.07L161.6 360.04L162.1 360.33L162.6 359.65L163.1 359.88L163.6 359.67L164.1 359.54L164.6 359.43L165.1 360.39L165.6 360.71L166.1 360.10L166.6 359.45L167.1 359.48L167.6 359.69L168.1 359.60L168.6 359.63L169.1 359.93L169.6 360.36L170.1 359.90L170.6 359.91L171.1 360.15L171.6 360.15L172.1 360.32L172.6 360.33L173.1 359.92L173.6 359.43L174.1 359.71L174.6 359.98L175.1 359.36L175.6 359.06L176.1 359.23L176.6 359.11L177.1 359.10L177.6 359.56L178.1 359.73L178.6 359.56L179.1 359.38L179.6 359.39L180.1 359.75L180.6 359.65L181.1 359.84L181.6 359.93L182.1 359.51L182.6 359.83L183.1 359.57L183.6 358.95L184.1 358.91L184.6 359.03L185.1 359.38L185.6 360.05L186.1 359.97L186.6 359.76L187.1 359.77L187.6 359.85L188.1 360.20L188.6 360.28L189.1 360.38L189.6 360.29L190.1 360.31L190.6 360.11L191.1 360.01L191.6 359.83L192.1 359.89L192.6 359.84L193.1 360.07L193.6 360.18L194.1 360.05L194.6 360.14L195.1 360.47L195.6 360.05L196.1 359.61L196.6 359.77L197.1 360.03L197.6 359.76L198.1 359.27L198.6 359.36L199.1 359.35L199.6 359.30L200.1 359.68L200.6 359.48L201.1 359.72L201.6 359.54L202.1 359.76L202.6 359.68L203.1 359.65L203.6 359.64L204.1 359.46L204.6 359.47L205.1 359.25L205.6 359.42L206.1 359.34L206.6 359.51L207.1 359.50L207.6 359.59L208.1 360.22L208.6 360.00L209.1 359.52L209.6 359.09L210.1 358.78L210.6 358.53L211.1 358.55L211.6 358.66L212.1 359.31L212.6 359.40L213.1 359.37L213.6 359.20L214.1 359.58L214.6 359.76L215.1 359.44L215.6 359.60L216.1 359.50L216.6 359.49L217.1 358.85L217.6 358.64L218.1 358.91L218.6 358.79L219.1 358.39L219.6 358.14L220.1 357.87L220.6 357.62L221.1 357.31L221.6 357.36L222.1 356.76L222.6 356.02L223.1 355.47L223.6 355.35L224.1 355.68L224.6 355.41L225.1 355.10L225.6 354.70L226.1 355.12L226.6 355.41L227.1 355.71L227.6 355.63L228.1 355.89L228.6 356.02L229.1 356.45L229.6 356.27L230.1 356.19L230.6 356.36L231.1 356.58L231.6 357.29L232.1 357.22L232.6 357.39L233.1 357.61L233.6 358.08L234.1 358.25L234.6 358.58L235.1 358.99L235.6 358.88L236.1 358.92L236.6 358.73L237.1 358.65L237.6 358.68L238.1 358.86L238.6 359.22L239.1 359.57L239.6 359.60L240.1 359.43L240.6 359.87L241.1 359.89L241.6 359.61L242.1 359.37L242.6 359.22L243.1 358.83L243.6 358.71L244.1 358.48L244.6 358.98L245.1 359.35L245.6 359.11L246.1 359.22L246.6 359.32L247.1 359.14L247.6 359.33L248.1 359.25L248.6 359.43L249.1 359.30L249.6 359.23L250.1 359.29L250.6 359.60L251.1 360.05L251.6 359.62L252.1 359.20L252.6 360.08L253.1 360.18L253.6 360.12L254.1 360.38L254.6 359.82L255.1 359.70L255.6 359.71L256.1 359.82L256.6 359.86L257.1 360.12L257.6 360.07L258.1 360.36L258.6 360.12L259.1 359.57L259.6 359.84L260.1 359.94L260.6 360.10L261.1 360.04L261.6 360.13L262.1 359.55L262.6 358.95L263.1 358.71L263.6 358.37L264.1 358.72L264.6 358.85L265.1 359.67L265.6 359.98L266.1 360.09L266.6 360.21L267.1 359.64L267.6 359.47L268.1 359.65L268.6 359.82L269.1 359.49L269.6 359.26L270.1 359.58L270.6 359.29L271.1 359.61L271.6 359.92L272.1 359.60L272.6 359.30L273.1 359.68L273.6 360.29L274.1 360.50L274.6 360.70L275.1 360.56L275.6 359.85L276.1 360.51L276.6 360.91L277.1 360.28L277.6 360.03L278.1 360.42L278.6 360.67L279.1 360.20L279.6 360.08L280.1 360.32L280.6 360.61L281.1 360.29L281.6 359.90L282.1 359.87L282.6 359.69L283.1 360.35L283.6 360.63L284.1 360.56L284.6 360.07L285.1 359.96L285.6 360.32L286.1 360.58L286.6 359.96L287.1 360.12L287.6 360.91L288.1 360.65L288.6 360.17L289.1 359.87L289.6 359.87L290.1 359.59L290.6 359.48L291.1 359.42L291.6 359.69L292.1 359.64L292.6 359.60L293.1 359.88L293.6 360.70L294.1 361.09L294.6 361.14L295.1 360.71L295.6 360.34L296.1 360.23L296.6 360.45L297.1 360.50L297.6 360.58L298.1 360.71L298.6 360.00L299.1 359.65L299.6 360.22L300.1 361.04L300.6 360.41L301.1 360.28L301.6 360.34L302.1 360.43L302.6 360.40L303.1 360.71L303.6 360.73L304.1 360.27L304.6 360.10L305.1 359.70L305.6 359.95L306.1 360.17L306.6 360.21L307.1 360.38L307.6 360.41L308.1 360.49L308.6 360.25L309.1 360.48L309.6 359.84L310.1 359.78L310.6 359.71L311.1 360.12L311.6 360.23L312.1 360.01L312.6 359.69L313.1 359.06L313.6 359.06L314.1 359.33L314.6 359.29L315.1 359.55L315.6 359.46L316.1 359.41L316.6 359.38L317.1 360.10L317.6 360.24L318.1 360.17L318.6 359.73L319.1 359.85L319.6 359.78L320.1 359.42L320.6 359.02L321.1 359.49L321.6 359.40L322.1 359.27L322.6 359.52L323.1 359.58L323.6 359.97L324.1 359.85L324.6 359.80L325.1 360.00L325.6 359.76L326.1 358.96L326.6 358.41L327.1 358.89L327.6 358.95L328.1 359.25L328.6 359.42L329.1 359.09L329.6 359.03L330.1 359.09L330.6 359.58L331.1 359.51L331.6 358.98L332.1 359.10L332.6 359.41L333.1 359.41L333.6 359.35L334.1 359.61L334.6 359.99L335.1 360.09L335.6 360.08L336.1 360.17L336.6 360.43L337.1 360.35L337.6 360.25L338.1 359.90L338.6 359.92L339.1 359.74L339.6 359.33L340.1 359.37L340.6 359.06L341.1 359.34L341.6 359.68L342.1 359.88L342.6 359.69L343.1 359.37L343.6 359.38L344.1 359.24L344.6 359.47L345.1 359.72L345.6 359.61L346.1 359.30L346.6 359.19L347.1 359.17L347.6 359.29L348.1 359.13L348.6 359.03L349.1 358.86L349.6 359.35L350.1 359.66L350.6 359.64L351.1 359.45L351.6 360.07L352.1 360.52L352.6 360.30L353.1 359.76L353.6 360.00L354.1 359.94L354.6 359.44L355.1 359.30L355.6 359.36L356.1 360.06L356.6 360.00L357.1 360.23L357.6 360.34L358.1 360.47L358.6 360.31L359.1 360.42L359.6 360.05L360.1 359.23L360.6 359.67L361.1 359.97L361.6 359.80L362.1 359.72L362.6 359.52L363.1 360.34L363.6 359.98L364.1 360.33L364.6 359.80L365.1 359.53L365.6 359.54L366.1 359.64L366.6 359.97L367.1 359.69L367.6 359.48L368.1 359.11L368.6 358.83L369.1 358.99L369.6 359.06L370.1 359.12L370.6 359.06L371.1 358.56L371.6 358.33L372.1 358.40L372.6 358.24L373.1 358.52L373.6 359.09L374.1 357.82L374.6 357.30L375.1 357.16L375.6 357.23L376.1 356.72L376.6 356.30L377.1 356.18L377.6 356.06L378.1 355.56L378.6 354.84L379.1 353.28L379.6 350.78L380.1 349.12L380.6 348.06L381.1 346.86L381.6 345.81L382.1 344.20L382.6 342.94L383.1 341.69L383.6 341.52L384.1 340.58L384.6 339.79L385.1 338.95L385.6 338.14L386.1 338.52L386.6 339.15L387.1 339.79L387.6 340.39L388.1 340.52L388.6 340.62L389.1 340.70L389.6 341.32L390.1 341.82L390.6 341.90L391.1 342.30L391.6 343.31L392.1 345.45L392.6 346.80L393.1 347.62L393.6 348.17L394.1 348.52L394.6 348.34L395.1 348.49L395.6 348.39L396.1 348.39L396.6 348.82L397.1 348.92L397.6 348.38L398.1 347.90L398.6 347.90L399.1 347.89L399.6 348.60L400.1 349.02L400.6 349.21L401.1 348.91L401.6 348.67L402.1 348.11L402.6 348.52L403.1 348.84L403.6 348.47L404.1 347.95L404.6 347.74L405.1 347.66L405.6 347.95L406.1 348.25L406.6 348.40L407.1 348.75L407.6 349.06L408.1 349.65L408.6 349.33L409.1 348.53L409.6 348.41L410.1 348.43L410.6 348.47L411.1 348.51L411.6 348.29L412.1 348.68L412.6 348.72L413.1 348.79L413.6 348.86L414.1 348.94L414.6 348.90L415.1 348.75L415.6 348.81L416.1 349.22L416.6 349.57L417.1 350.07L417.6 349.93L418.1 350.23L418.6 350.09L419.1 350.01L419.6 350.41L420.1 350.48L420.6 350.86L421.1 350.97L421.6 351.28L422.1 351.11L422.6 350.93L423.1 351.30L423.6 351.53L424.1 351.62L424.6 351.88L425.1 352.43L425.6 353.06L426.1 352.87L426.6 352.43L427.1 352.52L427.6 352.46L428.1 352.91L428.6 353.63L429.1 353.92L429.6 354.47L430.1 355.18L430.6 355.98L431.1 355.93L431.6 355.64L432.1 355.73L432.6 356.36L433.1 356.60L433.6 357.11L434.1 357.33L434.6 357.26L435.1 357.49L435.6 357.39L436.1 357.57L436.6 357.91L437.1 357.43L437.6 357.46L438.1 357.81L438.6 358.45L439.1 358.55L439.6 358.35L440.1 358.57L440.6 358.67L441.1 359.06L441.6 359.48L442.1 359.37L442.6 359.39L443.1 359.21L443.6 359.13L444.1 359.32L444.6 359.45L445.1 358.89L445.6 358.88L446.1 358.31L446.6 358.85L447.1 359.05L447.6 359.40L448.1 359.78L448.6 359.14L449.1 359.11L449.6 358.98L450.1 359.15L450.6 358.98L451.1 359.04L451.6 358.50L452.1 358.14L452.6 358.08L453.1 358.01L453.6 358.29L454.1 358.54L454.6 358.00L455.1 357.49L455.6 357.79L456.1 358.64L456.6 358.80L457.1 359.02L457.6 359.31L458.1 359.66L458.6 359.95L459.1 360.07L459.6 360.26L460.1 360.80L460.6 360.45L461.1 360.54L461.6 360.99L462.1 361.08L462.6 360.95L463.1 360.39L463.6 360.11L464.1 359.78L464.6 359.38L465.1 359.22L465.6 359.32L466.1 359.15L466.6 359.23L467.1 358.72L467.6 358.77L468.1 359.13L468.6 359.70L469.1 360.06L469.6 360.41L470.1 360.36L470.6 360.12L471.1 360.27L471.6 360.38L472.1 360.27L472.6 360.36L473.1 360.31L473.6 360.75L474.1 360.76L474.6 360.66L475.1 360.67L475.6 360.77L476.1 361.11L476.6 361.12L477.1 360.92L477.6 361.01L478.1 360.93L478.6 360.74L479.1 360.65L479.6 360.39L480.1 360.26L480.6 359.91L481.1 360.10L481.6 360.28L482.1 359.89L482.6 359.65L483.1 359.35L483.6 359.28L484.1 359.09L484.6 359.05L485.1 359.27L485.6 359.31L486.1 358.68L486.6 358.28L487.1 358.59L487.6 358.88L488.1 359.27L488.6 359.07L489.1 359.21L489.6 359.19L490.1 359.07L490.6 358.74L491.1 358.36L491.6 358.50L492.1 358.65L492.6 358.93L493.1 359.14L493.6 359.49L494.1 359.61L494.6 359.37L495.1 359.32L495.6 359.19L496.1 359.25L496.6 358.81L497.1 358.76L497.6 358.48L498.1 358.40L498.6 358.29L499.1 358.59L499.6 358.30L500.1 358.48L500.6 358.61L501.1 358.91L501.6 359.10L502.1 359.33L502.6 359.30L503.1 359.28L503.6 359.45L504.1 359.14L504.6 359.09L505.1 358.84L505.6 358.61L506.1 358.51L506.6 358.47L507.1 357.81L507.6 357.45L508.1 357.32L508.6 357.80L509.1 358.29L509.6 358.46L510.1 358.80L510.6 358.60L511.1 358.41L511.6 358.01L512.1 358.23L512.6 357.96L513.1 357.55L513.6 357.50L514.1 357.84L514.6 358.47L515.1 358.58L515.6 358.65L516.1 358.31L516.6 358.26L517.1 358.79L517.6 358.52L518.1 358.62L518.6 358.03L519.1 357.93L519.6 357.73L520.1 357.50L520.6 357.72L521.1 358.60L521.6 359.26L522.1 359.26L522.6 359.22L523.1 358.81" stroke="#0000ff" stroke-width="3.2"/>
</g>
<g stroke="#1a1a1a" stroke-width="1.6" fill="none">
<rect x="67" y="14" width="457.5" height="351.5" stroke-linejoin="round"/>
<line x1="67.00" y1="365.5" x2="67.00" y2="372.80"/><line x1="89.86" y1="365.5" x2="89.86" y2="369.80"/><line x1="112.72" y1="365.5" x2="112.72" y2="372.80"/><line x1="135.58" y1="365.5" x2="135.58" y2="369.80"/><line x1="158.44" y1="365.5" x2="158.44" y2="372.80"/><line x1="181.30" y1="365.5" x2="181.30" y2="369.80"/><line x1="204.16" y1="365.5" x2="204.16" y2="372.80"/><line x1="227.02" y1="365.5" x2="227.02" y2="369.80"/><line x1="249.88" y1="365.5" x2="249.88" y2="372.80"/><line x1="272.74" y1="365.5" x2="272.74" y2="369.80"/><line x1="295.60" y1="365.5" x2="295.60" y2="372.80"/><line x1="318.46" y1="365.5" x2="318.46" y2="369.80"/><line x1="341.32" y1="365.5" x2="341.32" y2="372.80"/><line x1="364.18" y1="365.5" x2="364.18" y2="369.80"/><line x1="387.04" y1="365.5" x2="387.04" y2="372.80"/><line x1="409.90" y1="365.5" x2="409.90" y2="369.80"/><line x1="432.76" y1="365.5" x2="432.76" y2="372.80"/><line x1="455.62" y1="365.5" x2="455.62" y2="369.80"/><line x1="478.48" y1="365.5" x2="478.48" y2="372.80"/><line x1="501.34" y1="365.5" x2="501.34" y2="369.80"/><line x1="524.20" y1="365.5" x2="524.20" y2="372.80"/>
</g>
<g stroke-width="2.8" stroke-linecap="round">
<line x1="452.1" y1="38.05" x2="490.7" y2="38.05" stroke="#000" stroke-width="2.6"/>
<line x1="419.5" y1="125.7" x2="458.3" y2="125.7" stroke="#ff0000"/>
<line x1="418.5" y1="206.3" x2="457.5" y2="206.3" stroke="#00ff00" stroke-width="3.0"/>
<line x1="418.7" y1="290.4" x2="457.6" y2="290.4" stroke="#0000ff"/>
</g>
<g font-size="16.8" fill="#1a1a1a" stroke="#1a1a1a" stroke-width="0.25">
<text x="495.2" y="44" textLength="21.9" lengthAdjust="spacingAndGlyphs">AT</text>
<text x="462.9" y="131.3" textLength="57.6" lengthAdjust="spacingAndGlyphs">CT-600</text>
<text x="462.8" y="212.1" textLength="57.6" lengthAdjust="spacingAndGlyphs">RT-600</text>
<text x="462.8" y="296.1" textLength="57.6" lengthAdjust="spacingAndGlyphs">RT-800</text>
</g>
<g font-size="14" fill="#222" stroke="#222" stroke-width="0.3" text-anchor="middle">
<text x="67.00" y="388">300</text><text x="112.72" y="388">400</text><text x="158.44" y="388">500</text><text x="204.16" y="388">600</text><text x="249.88" y="388">700</text><text x="295.60" y="388">800</text><text x="341.32" y="388">900</text><text x="387.04" y="388">1000</text><text x="432.76" y="388">1100</text><text x="478.48" y="388">1200</text><text x="524.20" y="388">1300</text>
</g>
<text x="210" y="420.5" font-size="19.8" font-weight="bold" fill="#000">Raman shift (cm<tspan font-size="11" dy="-10">-1</tspan><tspan dy="10" dx="1">)</tspan></text>
<text transform="translate(33.5,267.3) rotate(-90)" font-size="20.5" font-weight="bold" fill="#000">Intensity (a.u.)</text>
</svg>
</body></html>
